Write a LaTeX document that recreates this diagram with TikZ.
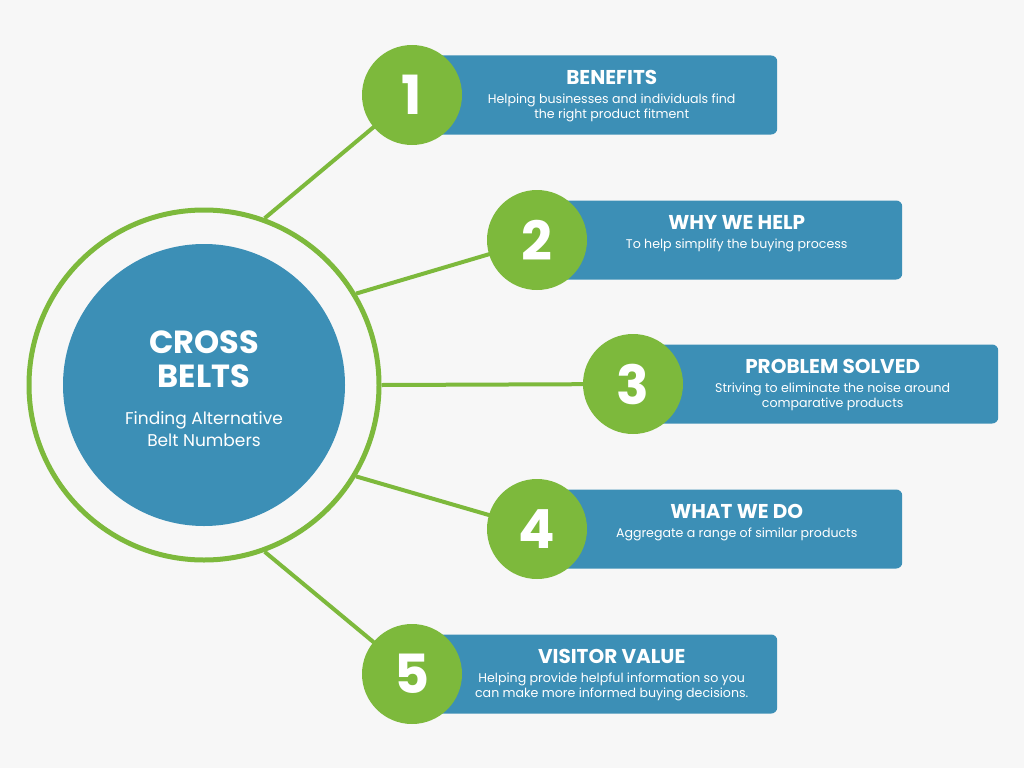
\documentclass[tikz,border=0pt]{standalone}
\usepackage{fontspec}
\setmainfont{Poppins}
\usetikzlibrary{positioning}
\definecolor{beltblue}{HTML}{3C8FB6}
\definecolor{beltgreen}{HTML}{7DB93C}
\definecolor{paper}{HTML}{F7F7F7}
\tikzset{
  hub/.style    = {circle, fill=beltblue, minimum size=282pt, inner sep=0pt},
  ring/.style   = {circle, draw=beltgreen, line width=5pt, minimum size=350pt, inner sep=0pt},
  num/.style    = {circle, fill=beltgreen, minimum size=100pt, inner sep=0pt,
                   text=white, font=\fontsize{54}{54}\selectfont\bfseries},
  panel/.style  = {rounded corners=6pt, fill=beltblue, minimum width=365pt,
                   minimum height=79pt, anchor=west},
  head/.style   = {text=white, font=\fontsize{20}{22}\selectfont\bfseries},
  info/.style   = {text=white, align=center, font=\fontsize{12.6}{15}\selectfont},
  spoke/.style  = {draw=beltgreen, line width=4pt}
}
\begin{document}
\begin{tikzpicture}[x=1pt,y=-1pt]
\fill[paper] (0,0) rectangle (1024,768);
\useasboundingbox (0,0) rectangle (1024,768);

% centre
\node[ring] (ring) at (204,385) {};
\node[hub] (hub) at (204,385) {};
\node[text=white, align=center, font=\fontsize{32}{34}\selectfont\bfseries]
  (name) at (204,359) {CROSS\\BELTS};
\node[text=white, align=center, font=\fontsize{17}{22}\selectfont]
  (slogan) at (204,429) {Finding Alternative\\Belt Numbers};

% panels
\node[panel] (p1) at (412,95) {};
\node[panel] (p2) at (537,240) {};
\node[panel] (p3) at (633,384) {};
\node[panel] (p4) at (537,529) {};
\node[panel] (p5) at (412,674) {};

\node[head] (h1) at ([xshift=17pt,yshift=18pt]p1.center) {BENEFITS};
\node[info, below=3pt of h1] (t1) {Helping businesses and individuals find\\the right product fitment};
\node[head] (h2) at ([xshift=17pt,yshift=18pt]p2.center) {WHY WE HELP};
\node[info, below=3pt of h2] (t2) {To help simplify the buying process};
\node[head] (h3) at ([xshift=17pt,yshift=18pt]p3.center) {PROBLEM SOLVED};
\node[info, below=3pt of h3] (t3) {Striving to eliminate the noise around\\comparative products};
\node[head] (h4) at ([xshift=17pt,yshift=18pt]p4.center) {WHAT WE DO};
\node[info, below=3pt of h4] (t4) {Aggregate a range of similar products};
\node[head] (h5) at ([xshift=17pt,yshift=18pt]p5.center) {VISITOR VALUE};
\node[info, below=3pt of h5] (t5) {Helping provide helpful information so you\\can make more informed buying decisions.};

% spokes
\draw[spoke] (ring.70) -- (412,95);
\draw[spoke] (ring.31) -- (537,240);
\draw[spoke] (ring.0) -- (633,384);
\draw[spoke] (ring.-31) -- (537,529);
\draw[spoke] (ring.-70) -- (412,674);

% numbers
\node[num] (n1) at (412,95) {1};
\node[num] (n2) at (537,240) {2};
\node[num] (n3) at (633,384) {3};
\node[num] (n4) at (537,529) {4};
\node[num] (n5) at (412,674) {5};
\end{tikzpicture}
\end{document}
